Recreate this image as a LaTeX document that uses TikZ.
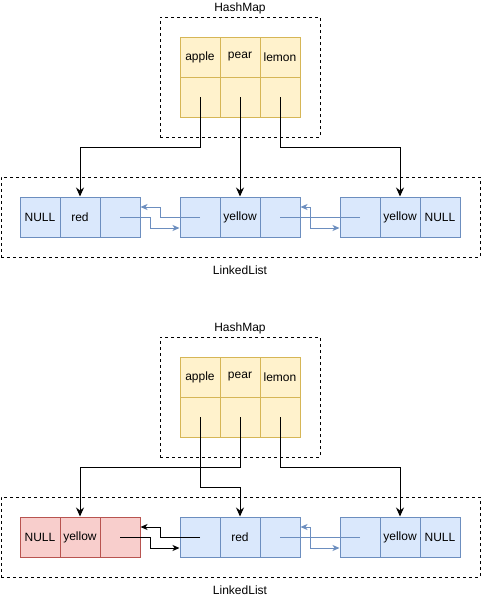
\documentclass[tikz,border=0pt]{standalone}
\usepackage{fontspec}
\setmainfont{Liberation Sans}
\usetikzlibrary{arrows.meta}
\definecolor{hmfill}{HTML}{FFF2CC}
\definecolor{hmline}{HTML}{D6B656}
\definecolor{llfill}{HTML}{DAE8FC}
\definecolor{llline}{HTML}{6C8EBF}
\definecolor{rdfill}{HTML}{F8CECC}
\definecolor{rdline}{HTML}{B85450}
\definecolor{lkline}{HTML}{6C8EBF}

\begin{document}
\begin{tikzpicture}[x=1pt,y=-1pt,
    every node/.style={font=\fontsize{12}{14}\selectfont},
    cell/.style={draw,line width=1pt,minimum width=40pt,minimum height=40pt,inner sep=0pt},
    hcell/.style={cell,draw=hmline,fill=hmfill},
    bcell/.style={cell,draw=llline,fill=llfill},
    rcell/.style={cell,draw=rdline,fill=rdfill},
    dbox/.style={draw,line width=1pt,dash pattern=on 3pt off 3pt,inner sep=0pt},
    ptr/.style={-{Stealth[length=9pt,width=8pt,inset=3pt]},line width=1pt},
    lnk/.style={-{Stealth[length=7pt,width=6pt,inset=2pt]},line width=1pt,draw=lkline},
    blk/.style={-{Stealth[length=7pt,width=6pt,inset=2pt]},line width=1pt}]
        \path [fill=white] (0,0) rectangle (481,598);
        \useasboundingbox (0,0) rectangle (481,598);
        % before
        \node [] (hm1) at (240,8) {HashMap};
        \node [dbox,minimum width=160pt,minimum height=120pt] (hmbox1) at (240,77) {};
        \node [hcell] (ha1) at (200,57) {apple};
        \node [hcell] (hp1) at (240,57) {pear};
        \node [hcell] (hl1) at (280,57) {lemon};
        \node [hcell] (hav1) at (200,97) {};
        \node [hcell] (hpv1) at (240,97) {};
        \node [hcell] (hlv1) at (280,97) {};
        \node [dbox,minimum width=479pt,minimum height=80pt] (llbox1) at (240.5,217) {};
        \node [] (ll1) at (240,270) {LinkedList};
        \node [bcell] (a1) at (40,217) {NULL};
        \node [bcell] (a2) at (80,217) {red};
        \node [bcell] (a3) at (120,217) {};
        \node [bcell] (b1) at (200,217) {};
        \node [bcell] (b2) at (240,217) {yellow};
        \node [bcell] (b3) at (280,217) {};
        \node [bcell] (c1) at (360,217) {};
        \node [bcell] (c2) at (400,217) {yellow};
        \node [bcell] (c3) at (440,217) {NULL};
        \draw [ptr] (hav1.center) -- ++(0,50) -| (a2.north);
        \draw [ptr] (hpv1.center) -- (b2.north);
        \draw [ptr] (hlv1.center) -- ++(0,50) -| (c2.north);
        \draw [lnk] (b1.center) -- ++(-40,0) |- ([yshift=10pt]a3.east);
        \draw [lnk] (a3.center) -- ++(30,0) |- ([yshift=-11pt]b1.west);
        \draw [lnk] (c1.center) -- ++(-50,0) |- ([yshift=10pt]b3.east);
        \draw [lnk] (b3.center) -- ++(30,0) |- ([yshift=-11pt]c1.west);
        % after
        \node [] (hm2) at (240,328) {HashMap};
        \node [dbox,minimum width=160pt,minimum height=120pt] (hmbox2) at (240,397) {};
        \node [hcell] (ha2) at (200,377) {apple};
        \node [hcell] (hp2) at (240,377) {pear};
        \node [hcell] (hl2) at (280,377) {lemon};
        \node [hcell] (hav2) at (200,417) {};
        \node [hcell] (hpv2) at (240,417) {};
        \node [hcell] (hlv2) at (280,417) {};
        \node [dbox,minimum width=479pt,minimum height=80pt] (llbox2) at (240.5,537) {};
        \node [] (ll2) at (240,590) {LinkedList};
        \node [rcell] (d1) at (40,537) {NULL};
        \node [rcell] (d2) at (80,537) {yellow};
        \node [rcell] (d3) at (120,537) {};
        \node [bcell] (e1) at (200,537) {};
        \node [bcell] (e2) at (240,537) {red};
        \node [bcell] (e3) at (280,537) {};
        \node [bcell] (f1) at (360,537) {};
        \node [bcell] (f2) at (400,537) {yellow};
        \node [bcell] (f3) at (440,537) {NULL};
        \draw [ptr] (hav2.center) -- ++(0,70) -| (e2.north);
        \draw [ptr] (hpv2.center) -- ++(0,50) -| (d2.north);
        \draw [ptr] (hlv2.center) -- ++(0,50) -| (f2.north);
        \draw [blk] (e1.center) -- ++(-40,0) |- ([yshift=10pt]d3.east);
        \draw [blk] (d3.center) -- ++(30,0) |- ([yshift=-11pt]e1.west);
        \draw [lnk] (f1.center) -- ++(-50,0) |- ([yshift=10pt]e3.east);
        \draw [lnk] (e3.center) -- ++(30,0) |- ([yshift=-11pt]f1.west);
\end{tikzpicture}
\end{document}
